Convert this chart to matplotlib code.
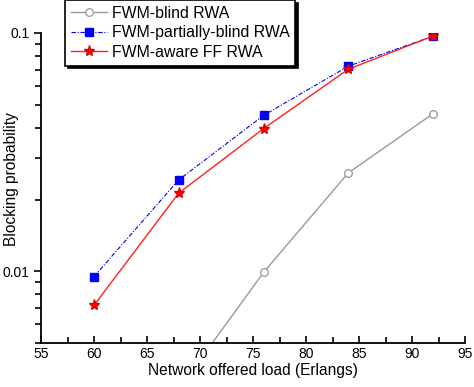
import matplotlib
matplotlib.use("Agg")
from matplotlib import pyplot as plt

plt.rcParams['font.family'] = ['Liberation Sans', 'DejaVu Sans']

# data
load = [60, 68, 76, 84, 92]
blind = [0.0008, 0.0032, 0.0099, 0.0259, 0.0459]
partially_blind = [0.0095, 0.0242, 0.0451, 0.0726, 0.0971]
aware_ff = [0.0072, 0.0213, 0.0397, 0.0705, 0.0972]

labels = ["FWM-blind RWA", "FWM-partially-blind RWA", "FWM-aware FF RWA"]

fig = plt.figure(figsize=(4.74, 3.87), dpi=100)
ax = fig.add_axes([41/474, 1-343/387, (465-41)/474, (343-33)/387])

ax.plot(load, blind, color="#999999", lw=1.0, marker="o", markersize=5.5,
        markerfacecolor="white", markeredgecolor="#999999", markeredgewidth=0.9,
        label=labels[0])
ax.plot(load, partially_blind, color="#0000ff", lw=0.8, ls=(0, (4, 1.5, 1, 1.5)),
        marker="s", markersize=5.5, markerfacecolor="#0000ff", markeredgecolor="#0000ff",
        label=labels[1])
ax.plot(load, aware_ff, color="#ff2020", lw=1.0, marker="*", markersize=8,
        markerfacecolor="#ff0000", markeredgecolor="#dd0000",
        label=labels[2])

ax.set_yscale("log")
ax.set_xlim(55, 95)
ax.set_ylim(0.005, 0.1)
ax.set_xticks(range(55, 96, 5))
ax.set_xticks([57.5 + 5*i for i in range(8)], minor=True)
ax.set_yticks([0.01, 0.1])
ax.set_yticklabels(["0.01", "0.1"])
ax.yaxis.set_minor_formatter(matplotlib.ticker.NullFormatter())

for s in ["top", "right"]:
    ax.spines[s].set_visible(False)
for s in ["left", "bottom"]:
    ax.spines[s].set_linewidth(1.3)

ax.tick_params(axis="x", which="major", direction="in", length=5, width=1.2, labelsize=10, pad=3)
ax.tick_params(axis="x", which="minor", direction="in", length=4, width=1.2)
ax.tick_params(axis="y", which="major", direction="out", length=5, width=1.2, labelsize=10)
ax.tick_params(axis="y", which="minor", direction="out", length=4, width=1.2)

ax.set_xlabel("Network offered load (Erlangs)", fontsize=11.2, labelpad=1)
ax.set_ylabel("Blocking probability", fontsize=11.2)
ax.yaxis.set_label_coords(-22/424, 0.53)

leg = fig.legend(loc="upper left", bbox_to_anchor=(65/474, 1.0), fontsize=11.4,
                 frameon=True, fancybox=False, edgecolor="black", framealpha=1,
                 shadow={"color": "black", "alpha": 1}, handlelength=2.3,
                 handletextpad=0.3, labelspacing=0.3, borderpad=0.35, borderaxespad=0)
leg.get_frame().set_linewidth(1.2)

fig.savefig("out.png", dpi=100)
